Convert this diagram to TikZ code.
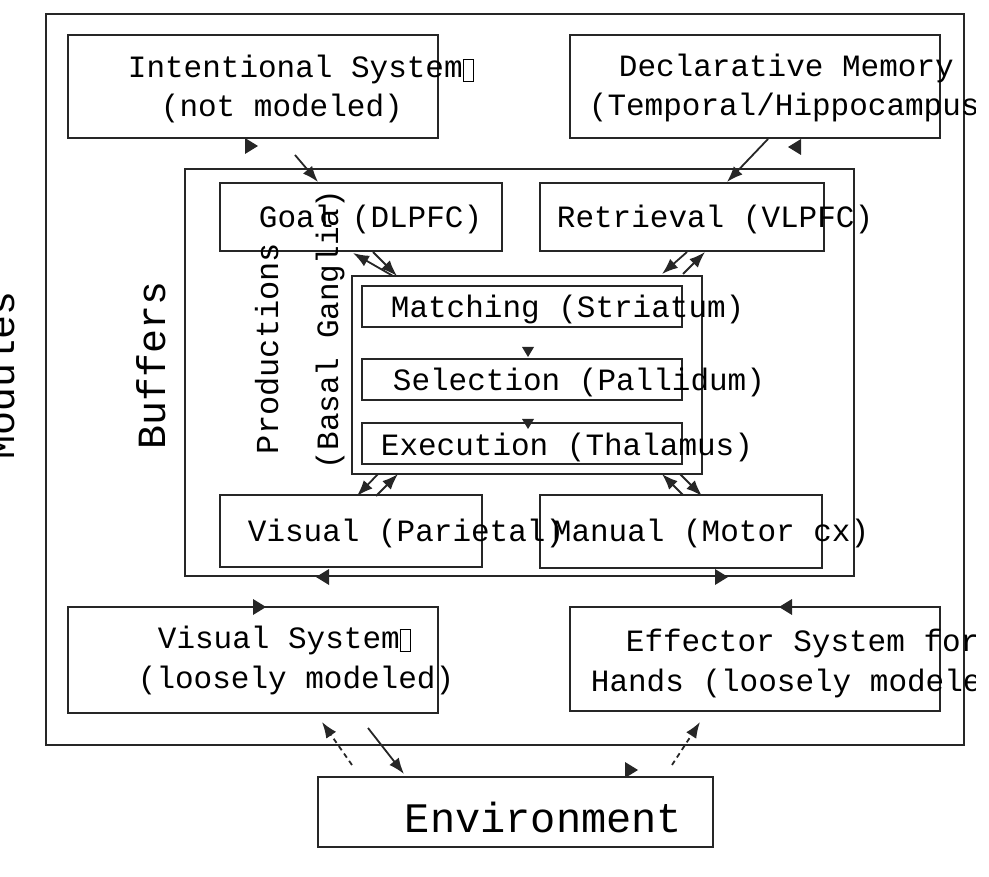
\documentclass[tikz,border=0pt]{standalone}
\usepackage{fontspec}
\setmainfont{Liberation Mono}
\usetikzlibrary{arrows.meta}
\usetikzlibrary{positioning}
\tikzset{>={Latex[length=16pt,width=12pt]}}
\newcommand\tofu{\raisebox{-3pt}{\setlength\fboxrule{1pt}\setlength\fboxsep{0pt}\framebox[11pt]{\rule{0pt}{21pt}}}}
\tikzset{box/.style={draw,line width=1.6pt,inner sep=0},
  lbl/.style={anchor=base west,inner sep=0,font=\fontsize{31}{35}\selectfont},
  vlbl/.style={lbl,rotate=90},
  tip/.style={fill=black!85}}

\begin{document}
\begin{tikzpicture}[x=1pt,y=-1pt,line width=1.8pt,draw=black!85]
	\useasboundingbox (0,0) rectangle (989,877);
	% boxes
	\draw[box] (46,14) rectangle (964,745);
	\draw[box] (185,169) rectangle (854,576);
	\node[box,minimum width=370,minimum height=103] (intent) at (253,86.5) {};
	\node[box,minimum width=370,minimum height=103] (decl) at (755,86.5) {};
	\node[box,minimum width=282,minimum height=68] (goal) at (361,217) {};
	\node[box,minimum width=284,minimum height=68] (retr) at (682,217) {};
	\node[box,minimum width=350,minimum height=198] (prod) at (527,375) {};
	\node[box,minimum width=320,minimum height=41] (match) at (522,306.5) {};
	\node[box,minimum width=320,minimum height=41] (sel) at (522,379.5) {};
	\node[box,minimum width=320,minimum height=41] (exec) at (522,443.5) {};
	\node[box,minimum width=262,minimum height=72] (vis) at (351,531) {};
	\node[box,minimum width=282,minimum height=73] (man) at (681,531.5) {};
	\node[box,minimum width=370,minimum height=106] (vsys) at (253,660) {};
	\node[box,minimum width=370,minimum height=104] (eff) at (755,659) {};
	\node[box,minimum width=395,minimum height=70] (env) at (515.5,812) {};
	% texts
	\node[lbl] (t1) at (127,78) {Intentional System\tofu};
	\node[lbl] (t2) at (160,117) {(not modeled)};
	\begin{scope}
		\clip (560,0) rectangle (975,877);
		\node[lbl] (t3) at (618,77) {Declarative Memory};
		\node[lbl] (t4) at (588,116) {(Temporal/Hippocampus)};
		\node[lbl] (t5) at (625,651) {Effector System for};
		\node[lbl] (t6) at (590,691) {Hands (loosely modeled)};
	\end{scope}
	\node[lbl] (t7) at (258,228) {Goal (DLPFC)};
	\node[lbl] (t8) at (556,228) {Retrieval (VLPFC)};
	\node[lbl] (t9) at (390,318) {Matching (Striatum)};
	\node[lbl] (t10) at (392,391) {Selection (Pallidum)};
	\node[lbl] (t11) at (380,456) {Execution (Thalamus)};
	\node[lbl] (t12) at (247,541) {Visual (Parietal)};
	\node[lbl] (t13) at (552,541) {Manual (Motor cx)};
	\node[lbl] (t14) at (157,648) {Visual System\tofu};
	\node[lbl] (t15) at (137,688) {(loosely modeled)};
	\node[lbl,font=\fontsize{42}{46}\selectfont] (t16) at (404,832) {Environment};
	\node[vlbl,font=\fontsize{40}{46}\selectfont] (t17) at (165,450) {Buffers};
	\node[vlbl,font=\fontsize{40}{46}\selectfont] (t18) at (15,460) {Modules};
	\node[vlbl,font=\fontsize{32}{36}\selectfont] (t19) at (278,455) {Productions};
	\node[vlbl] (t20) at (338,470) {(Basal Ganglia)};
	% arrow ends
	\coordinate (a1) at (295,155); \coordinate (a2) at (318,182);
	\coordinate (b1) at (768,139); \coordinate (b2) at (727,182);
	\coordinate (c1) at (393,276); \coordinate (c2) at (353,253);
	\coordinate (c3) at (373,252); \coordinate (c4) at (397,276);
	\coordinate (d1) at (687,252); \coordinate (d2) at (662,274);
	\coordinate (d3) at (683,274); \coordinate (d4) at (705,252);
	\coordinate (e1) at (378,474); \coordinate (e2) at (357,496);
	\coordinate (e3) at (376,496); \coordinate (e4) at (398,474);
	\coordinate (f1) at (683,495); \coordinate (f2) at (662,474);
	\coordinate (f3) at (680,474); \coordinate (f4) at (702,496);
	\coordinate (g1) at (352,765); \coordinate (g2) at (322,722);
	\coordinate (g3) at (368,728); \coordinate (g4) at (404,774);
	\coordinate (h1) at (672,765); \coordinate (h2) at (700,722);
	% connectors
	\draw[->] (a1) -- (a2);
	\draw[->] (b1) -- (b2);
	\draw[->] (c1) -- (c2);
	\draw[->] (c3) -- (c4);
	\draw[->] (d1) -- (d2);
	\draw[->] (d3) -- (d4);
	\draw[->] (e1) -- (e2);
	\draw[->] (e3) -- (e4);
	\draw[->] (f1) -- (f2);
	\draw[->] (f3) -- (f4);
	\draw[->,dashed,dash pattern=on 5pt off 4pt] (g1) -- (g2);
	\draw[->] (g3) -- (g4);
	\draw[->,dashed,dash pattern=on 5pt off 4pt] (h1) -- (h2);
	% loose tips
	\fill[tip] (258,146) -- ++(-13,-8) -- ++(0,16) -- cycle;
	\fill[tip] (788,147) -- ++(13,-8) -- ++(0,16) -- cycle;
	\fill[tip] (528,357) -- ++(-6,-10) -- ++(12,0) -- cycle;
	\fill[tip] (528,429) -- ++(-6,-10) -- ++(12,0) -- cycle;
	\fill[tip] (316,577) -- ++(13,-8) -- ++(0,16) -- cycle;
	\fill[tip] (728,577) -- ++(-13,-8) -- ++(0,16) -- cycle;
	\fill[tip] (266,607) -- ++(-13,-8) -- ++(0,16) -- cycle;
	\fill[tip] (779,607) -- ++(13,-8) -- ++(0,16) -- cycle;
	\fill[tip] (638,770) -- ++(-13,-8) -- ++(0,16) -- cycle;
\end{tikzpicture}
\end{document}
